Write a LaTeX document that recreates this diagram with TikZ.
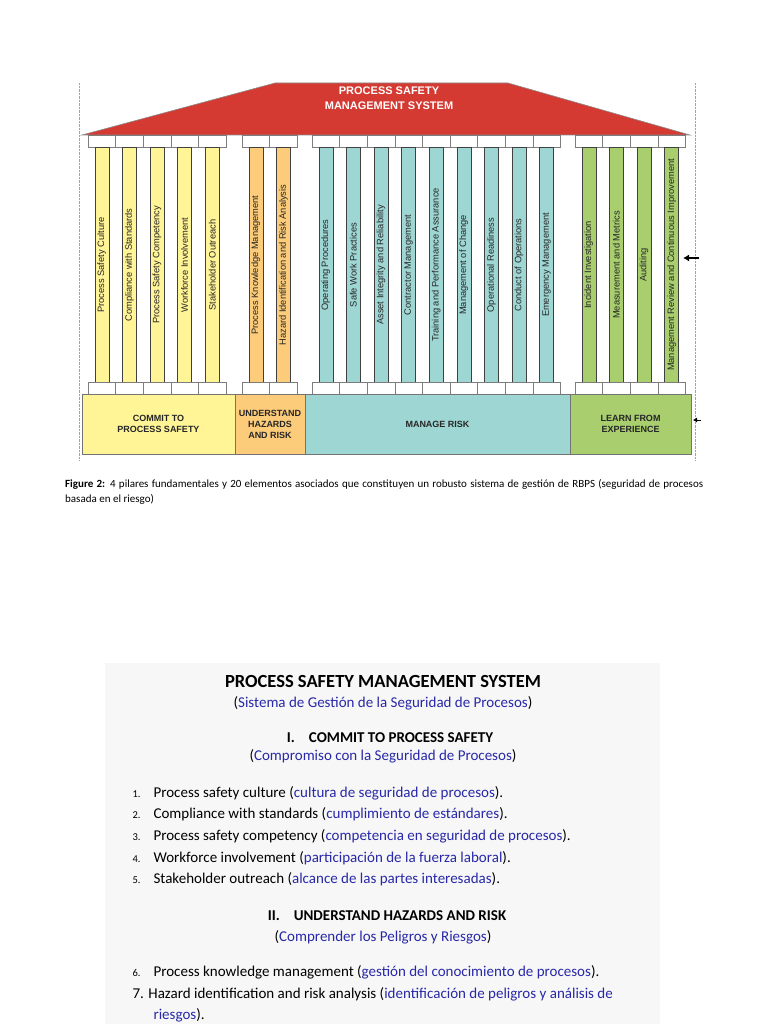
\documentclass[tikz,border=0pt]{standalone}
\usepackage{fontspec}
\setmainfont{Carlito}
\newfontfamily\arialfont{Liberation Sans}
\usetikzlibrary{positioning, arrows.meta}

\definecolor{roofred}{RGB}{212,58,50}
\definecolor{pyellow}{RGB}{255,244,150}
\definecolor{porange}{RGB}{252,204,122}
\definecolor{pteal}{RGB}{158,214,211}
\definecolor{pgreen}{RGB}{168,206,110}
\definecolor{esblue}{RGB}{40,40,168}
\definecolor{capgray}{RGB}{125,125,125}
\definecolor{frameblue}{RGB}{130,170,210}
\newcommand{\esp}[1]{\textcolor{esblue}{#1}}

\begin{document}
\begin{tikzpicture}[x=1pt, y=-1pt,
    capital/.style={draw=capgray, fill=white, line width=0.6pt, minimum width=27.6pt,
                    minimum height=12pt, inner sep=0pt},
    shaft/.style={draw=black!75, fill=#1, line width=0.6pt, rotate=90, minimum width=236pt,
                  minimum height=14pt, inner sep=0pt, text=black!85,
                  font=\arialfont\fontsize{9.3}{11}\selectfont},
    basebox/.style={draw=black!55, fill=#1, line width=0.6pt, minimum height=60pt, inner sep=0pt,
                    align=center, text=black!85, font=\arialfont\bfseries\fontsize{9}{11}\selectfont},
    rooftxt/.style={align=center, text=white, font=\arialfont\bfseries\fontsize{11}{15}\selectfont},
    heading/.style={anchor=base, font=\bfseries\fontsize{15}{18}\selectfont},
    sub/.style={anchor=base, font=\fontsize{15}{18}\selectfont},
    item/.style={anchor=base west, font=\fontsize{15}{18}\selectfont},
    num/.style={anchor=base west, font=\fontsize{10.5}{12}\selectfont},
    edgemark/.style={-{Latex[length=6pt,width=7pt]}, line width=1.6pt},
]
\useasboundingbox (0,0) rectangle (768,1024);
\fill[white] (0,0) rectangle (768,1024);

% --- frame of the figure ---
\fill[black!3] (105,663) rectangle (660,1024);
\draw[frameblue, densely dotted] (79,83) -- (79,460);
\draw[frameblue, densely dotted] (695,83) -- (695,460);

% --- roof ---
\filldraw[fill=roofred, draw=black!45, line width=0.6pt] (82,135) -- (275,83) -- (508,83) -- (690,135) -- cycle;
\node[rooftxt] (roof) at (389,98.5) {PROCESS SAFETY\\MANAGEMENT SYSTEM};

% --- the 20 columns ---
\foreach \cx/\col/\lab [count=\i] in {
    101.8/pyellow/Process Safety Culture,
    129.4/pyellow/Compliance with Standards,
    157.0/pyellow/Process Safety Competency,
    184.6/pyellow/Workforce Involvement,
    212.2/pyellow/Stakeholder Outreach,
    255.8/porange/Process Knowledge Management,
    283.4/porange/Hazard Identification and Risk Analysis,
    325.8/pteal/Operating Procedures,
    353.4/pteal/Safe Work Practices,
    381.0/pteal/Asset Integrity and Reliability,
    408.6/pteal/Contractor Management,
    436.2/pteal/Training and Performance Assurance,
    463.8/pteal/Management of Change,
    491.4/pteal/Operational Readiness,
    519.0/pteal/Conduct of Operations,
    546.6/pteal/Emergency Management,
    588.8/pgreen/Incident Investigation,
    616.4/pgreen/Measurement and Metrics,
    644.0/pgreen/Auditing,
    671.6/pgreen/Management Review and Continuous Improvement} {
  \node[capital]     (t\i) at (\cx,141.5) {};
  \node[shaft=\col]  (p\i) at (\cx,265) {\lab};
  \node[capital]     (b\i) at (\cx,388.5) {};
}

% --- the 4 pillars (base) ---
\node[basebox=pyellow, minimum width=153pt] (commit)     at (158.5,424) {COMMIT TO\\PROCESS SAFETY};
\node[basebox=porange, minimum width=70pt]  (understand) at (270,424)   {UNDERSTAND\\HAZARDS\\AND RISK};
\node[basebox=pteal,   minimum width=265pt] (manage)     at (437.5,424) {MANAGE RISK};
\node[basebox=pgreen,  minimum width=121pt] (learn)      at (630.5,424) {LEARN FROM\\EXPERIENCE};

% --- marks on the right edge ---
\coordinate (m1s) at (699,258);
\coordinate (m1e) at (683,258);
\coordinate (m2s) at (701,420);
\coordinate (m2e) at (693,420);
\draw[edgemark] (m1s) -- (m1e);
\draw[edgemark, -{Latex[length=4pt,width=5pt]}, line width=1pt] (m2s) -- (m2e);

% --- caption ---
\node[anchor=base west, text width=638pt, align=justify, inner sep=0pt,
      font=\fontsize{11}{15}\selectfont] (caption) at (65,487.5)
  {\textbf{Figure 2:} 4 pilares fundamentales y 20 elementos asociados que constituyen un robusto sistema de gestión de RBPS (seguridad de procesos\linebreak basada en el riesgo)};

% --- translated list ---
\node[heading, font=\bfseries\fontsize{18.5}{22}\selectfont] (psms) at (383,687) {PROCESS SAFETY MANAGEMENT SYSTEM};
\node[sub]     (psmsEs)  at (383,707) {(\esp{Sistema de Gestión de la Seguridad de Procesos})};
\node[heading] (secI)    at (390,742) {I.\hspace{14pt}COMMIT TO PROCESS SAFETY};
\node[sub]     (secIEs)  at (383,760) {(\esp{Compromiso con la Seguridad de Procesos})};

\foreach \n/\yb/\en/\es in {
    1/797/Process safety culture/cultura de seguridad de procesos,
    2/818/Compliance with standards/cumplimiento de estándares,
    3/840/Process safety competency/competencia en seguridad de procesos,
    4/862/Workforce involvement/participación de la fuerza laboral,
    5/883/Stakeholder outreach/alcance de las partes interesadas} {
  \node[num]  (num\n)  at (129,\yb) {\n.};
  \node[item] (item\n) at (150,\yb) {\en{} (\esp{\es}).};
}

\node[heading] (secII)   at (387,920) {II.\hspace{14pt}UNDERSTAND HAZARDS AND RISK};
\node[sub]     (secIIEs) at (383,941) {(\esp{Comprender los Peligros y Riesgos})};
\node[num]     (num6)    at (129,976) {6.};
\node[item]    (item6)   at (150,976) {Process knowledge management (\esp{gestión del conocimiento de procesos}).};
\node[item]    (item7)   at (129,998) {7. Hazard identification and risk analysis (\esp{identificación de peligros y análisis de}};
\node[item]    (item7b)  at (150,1019) {\esp{riesgos}).};
\end{tikzpicture}
\end{document}
